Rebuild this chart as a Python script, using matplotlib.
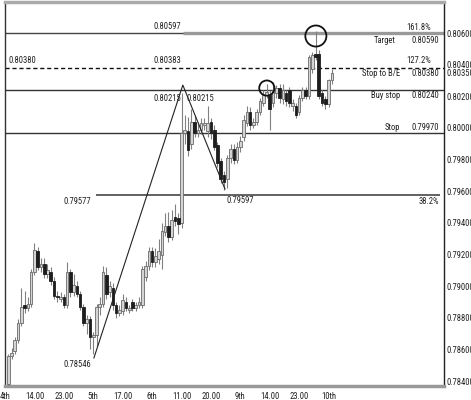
import matplotlib
matplotlib.use("Agg")
import matplotlib.pyplot as plt
from matplotlib import font_manager as fm
import numpy as np

# hourly candles, bar 1..100
opens = [0.7838, 0.7856, 0.7859, 0.7866, 0.7877, 0.7888, 0.7886, 0.7889, 0.7909, 0.7922,
         0.7912, 0.7914, 0.7908, 0.7909, 0.7903, 0.7894, 0.7892, 0.7893, 0.7888, 0.7909,
         0.7896, 0.7900, 0.7895, 0.7887, 0.7877, 0.7879, 0.7868, 0.7869, 0.7887, 0.7889,
         0.7907, 0.7896, 0.7899, 0.7888, 0.7883, 0.7884, 0.7890, 0.7885, 0.7890, 0.7886,
         0.7888, 0.7888, 0.7906, 0.7913, 0.7922, 0.7915, 0.7917, 0.7920, 0.7934, 0.7938,
         0.7931, 0.7944, 0.7943, 0.7940, 0.7997, 0.7998, 0.7990, 0.8004, 0.7997, 0.7999,
         0.8002, 0.7998, 0.8004, 0.7999, 0.7989, 0.7979, 0.7970, 0.7968, 0.7981, 0.7987,
         0.7980, 0.7988, 0.7994, 0.8003, 0.8010, 0.8002, 0.8004, 0.8010, 0.8016, 0.8021,
         0.8021, 0.8016, 0.8022, 0.8025, 0.8018, 0.8022, 0.8024, 0.8014, 0.8014, 0.8010,
         0.8019, 0.8024, 0.8020, 0.8037, 0.8047, 0.8047, 0.8022, 0.8018, 0.8015, 0.8030]
highs = [0.7857, 0.7861, 0.7868, 0.7879, 0.7899, 0.7897, 0.7893, 0.7911, 0.7927, 0.7925,
         0.7918, 0.7918, 0.7914, 0.7912, 0.7906, 0.7897, 0.7896, 0.7895, 0.7915, 0.7911,
         0.7908, 0.7903, 0.7897, 0.7889, 0.7882, 0.7881, 0.7871, 0.7889, 0.7893, 0.7913,
         0.7912, 0.7903, 0.7902, 0.7890, 0.7888, 0.7895, 0.7893, 0.7888, 0.7892, 0.7890,
         0.7893, 0.7913, 0.7916, 0.7925, 0.7925, 0.7924, 0.7930, 0.7940, 0.7946, 0.7947,
         0.7948, 0.7952, 0.7946, 0.8022, 0.8008, 0.8007, 0.8012, 0.8008, 0.8003, 0.8006,
         0.8006, 0.8014, 0.8006, 0.8002, 0.7991, 0.7981, 0.7973, 0.7983, 0.7990, 0.7990,
         0.7991, 0.7995, 0.8008, 0.8014, 0.8013, 0.8006, 0.8012, 0.8019, 0.8024, 0.8028,
         0.8024, 0.8029, 0.8027, 0.8028, 0.8028, 0.8024, 0.8026, 0.8018, 0.8016, 0.8021,
         0.8026, 0.8026, 0.8046, 0.8048, 0.8061, 0.8049, 0.8024, 0.8020, 0.8031, 0.8037]
lows = [0.7836, 0.7854, 0.7857, 0.7864, 0.7875, 0.7883, 0.7884, 0.7887, 0.7907, 0.7910,
        0.7909, 0.7905, 0.7905, 0.7901, 0.7892, 0.7890, 0.7890, 0.7886, 0.7886, 0.7893,
        0.7894, 0.7893, 0.7885, 0.7875, 0.7870, 0.7860, 0.7857, 0.7862, 0.7882, 0.7887,
        0.7892, 0.7893, 0.7885, 0.7880, 0.7881, 0.7882, 0.7884, 0.7883, 0.7884, 0.7884,
        0.7886, 0.7886, 0.7903, 0.7910, 0.7912, 0.7912, 0.7914, 0.7911, 0.7932, 0.7928,
        0.7929, 0.7938, 0.7933, 0.7937, 0.7990, 0.7982, 0.7987, 0.7994, 0.7994, 0.7996,
        0.7999, 0.7994, 0.7993, 0.7986, 0.7975, 0.7965, 0.7961, 0.7962, 0.7978, 0.7977,
        0.7978, 0.7985, 0.7992, 0.8001, 0.7999, 0.8000, 0.8002, 0.8008, 0.8014, 0.8019,
        0.7999, 0.8013, 0.8019, 0.8016, 0.8015, 0.8014, 0.8013, 0.8011, 0.8006, 0.8008,
        0.8017, 0.8018, 0.8018, 0.8035, 0.8043, 0.8018, 0.8014, 0.8012, 0.8013, 0.8028]
closes = [0.7856, 0.7858, 0.7866, 0.7877, 0.7887, 0.7886, 0.7889, 0.7909, 0.7923, 0.7912,
          0.7914, 0.7908, 0.7910, 0.7903, 0.7894, 0.7893, 0.7893, 0.7888, 0.7909, 0.7896,
          0.7901, 0.7895, 0.7887, 0.7877, 0.7879, 0.7868, 0.7869, 0.7887, 0.7889, 0.7909,
          0.7895, 0.7900, 0.7888, 0.7883, 0.7885, 0.7891, 0.7886, 0.7886, 0.7886, 0.7888,
          0.7890, 0.7911, 0.7913, 0.7922, 0.7915, 0.7919, 0.7922, 0.7935, 0.7938, 0.7931,
          0.7942, 0.7941, 0.7939, 0.7997, 0.7999, 0.7986, 0.8004, 0.7997, 0.7999, 0.8003,
          0.8003, 0.8003, 0.7997, 0.7988, 0.7978, 0.7968, 0.7966, 0.7981, 0.7987, 0.7980,
          0.7988, 0.7992, 0.8005, 0.8010, 0.8002, 0.8004, 0.8010, 0.8017, 0.8021, 0.8023,
          0.8012, 0.8024, 0.8025, 0.8019, 0.8024, 0.8017, 0.8016, 0.8016, 0.8008, 0.8019,
          0.8024, 0.8020, 0.8045, 0.8046, 0.8045, 0.8020, 0.8016, 0.8015, 0.8030, 0.8035]

xtick_pos = [0, 9, 18, 27, 36, 45, 54, 63, 72, 81, 90, 99]
xtick_labels = ["4th", "14.00", "23.00", "5th", "17.00", "6th",
                "11.00", "20.00", "9th", "14.00", "23.00", "10th"]
ytick_vals = [0.806, 0.804, 0.8035, 0.802, 0.800, 0.798, 0.796,
              0.794, 0.792, 0.790, 0.788, 0.786, 0.784]

# levels
fib_1618 = 0.80597
stop_be = 0.80380
buy_stop = 0.80240
stop = 0.79970
fib_382 = 0.79577

# zigzag swing points (bar, price)
swing_x = [27.2, 54.4, 67.3]
swing_y = [0.78546, 0.80271, 0.79614]

# circled highs (bar, price)
circle_x = [80.1, 95.1]
circle_y = [0.80252, 0.80581]
circle_s = [120, 230]


def pick_narrow_font():
    """Look for a condensed sans; fall back to Liberation Sans."""
    wanted = ("Liberation Sans Narrow", "Arial Narrow", "Roboto Condensed",
              "Open Sans Condensed", "Noto Sans Condensed")
    fonts = fm.fontManager.ttflist
    for name in wanted:
        for f in fonts:
            if f.name == name and f.style == "normal" and f.weight in (400, "normal", "regular"):
                return fm.FontProperties(fname=f.fname), True
    for f in fonts:
        if (f.name in ("DejaVu Sans", "Noto Sans", "Open Sans", "Roboto", "Liberation Sans")
                and f.stretch in ("condensed", "semi-condensed")
                and f.style == "normal" and f.weight in (400, "normal", "regular")):
            return fm.FontProperties(fname=f.fname), True
    return fm.FontProperties(family="Liberation Sans"), False


base_fp, is_narrow = pick_narrow_font()
note_size = 6.2 if is_narrow else 5.3
tick_size = 6.2 if is_narrow else 5.4

fig = plt.figure(figsize=(4.71, 4.0), dpi=100)
ax = fig.add_axes([5 / 471, 14 / 400, 439 / 471, 384 / 400])

bars = np.arange(1, len(opens) + 1)
o = np.array(opens)
c = np.array(closes)
up = c >= o

# wicks then bodies
ax.vlines(bars, lows, highs, color="#808080", linewidth=0.8, zorder=3)
ax.bar(bars[up], np.maximum(c[up] - o[up], 0.00005), bottom=o[up], width=0.8,
       facecolor="#d4d4d4", edgecolor="#6a6a6a", linewidth=0.6, zorder=4)
ax.bar(bars[~up], np.maximum(o[~up] - c[~up], 0.00005), bottom=c[~up], width=0.8,
       facecolor="#1e1e1e", edgecolor="#1e1e1e", linewidth=0.6, zorder=4)

# horizontal levels
ax.axhline(fib_1618, color="#444444", linewidth=1.0, zorder=2)
ax.hlines(fib_1618, 54.4, 134.3, color="#999999", linewidth=2.4, zorder=2)
ax.axhline(stop_be, color="#111111", linewidth=1.0, linestyle=(0, (3, 2)), zorder=2)
ax.axhline(buy_stop, color="#333333", linewidth=1.0, zorder=2)
ax.axhline(stop, color="#333333", linewidth=1.0, zorder=2)
ax.hlines(fib_382, 27.8, 133.0, color="#555555", linewidth=1.3, zorder=2)

# zigzag
ax.plot(swing_x, swing_y, color="#222222", linewidth=0.8, zorder=5)

# circles
ax.scatter(circle_x, circle_y, s=circle_s, facecolors="none",
           edgecolors="#111111", linewidths=1.3, zorder=6)

tc = "#222222"


def note(x, y, s, ha, dy):
    fp = base_fp.copy()
    fp.set_size(note_size)
    ax.annotate(s, xy=(x, y), xytext=(0, dy), textcoords="offset points",
                ha=ha, va="center", fontproperties=fp, color=tc, zorder=7)


# left / middle labels
note(1.0, stop_be, "0.80380", "left", 5)
note(54.0, fib_1618, "0.80597", "right", 5)
note(54.0, stop_be, "0.80383", "right", 5)
note(53.8, swing_y[1], "0.80215", "right", -10)
note(55.5, swing_y[1], "0.80215", "left", -10)
note(26.5, fib_382, "0.79577", "right", -5)
note(67.8, fib_382, "0.79597", "left", -4)
note(26.4, swing_y[0], "0.78546", "right", -5)

# right side labels
note(130.3, fib_1618, "161.8%", "right", 4)
note(119.6, fib_1618, "Target", "right", -5)
note(124.5, fib_1618, "0.80590", "left", -5)
note(130.3, stop_be, "127.2%", "right", 5)
note(120.8, stop_be, "Stop to B/E", "right", -4)
note(124.5, stop_be, "0.80380", "left", -4)
note(120.8, buy_stop, "Buy stop", "right", -4)
note(124.5, buy_stop, "0.80240", "left", -4)
note(120.8, stop, "Stop", "right", 4)
note(124.5, stop, "0.79970", "left", 4)
note(132.7, fib_382, "38.2%", "right", -5)

ax.set_xlim(0, 134.3)
ax.set_ylim(0.78369, 0.80796)

tick_fp = base_fp.copy()
tick_fp.set_size(tick_size)
ax.set_xticks(xtick_pos)
ax.set_xticklabels(xtick_labels, fontproperties=tick_fp)
ax.yaxis.tick_right()
ax.set_yticks(ytick_vals)
ax.set_yticklabels([f"{v:.5f}" for v in ytick_vals], fontproperties=tick_fp)
ax.tick_params(axis="both", length=0, colors="#222222")
ax.tick_params(axis="y", pad=2)
ax.tick_params(axis="x", pad=4)

ax.spines["top"].set_color("#aaaaaa")
ax.spines["top"].set_linewidth(2.5)
ax.spines["bottom"].set_color("#999999")
ax.spines["bottom"].set_linewidth(2.5)
ax.spines["left"].set_color("#333333")
ax.spines["left"].set_linewidth(1.0)
ax.spines["right"].set_color("#222222")
ax.spines["right"].set_linewidth(1.0)

fig.savefig("out.png", dpi=100, facecolor="white")
